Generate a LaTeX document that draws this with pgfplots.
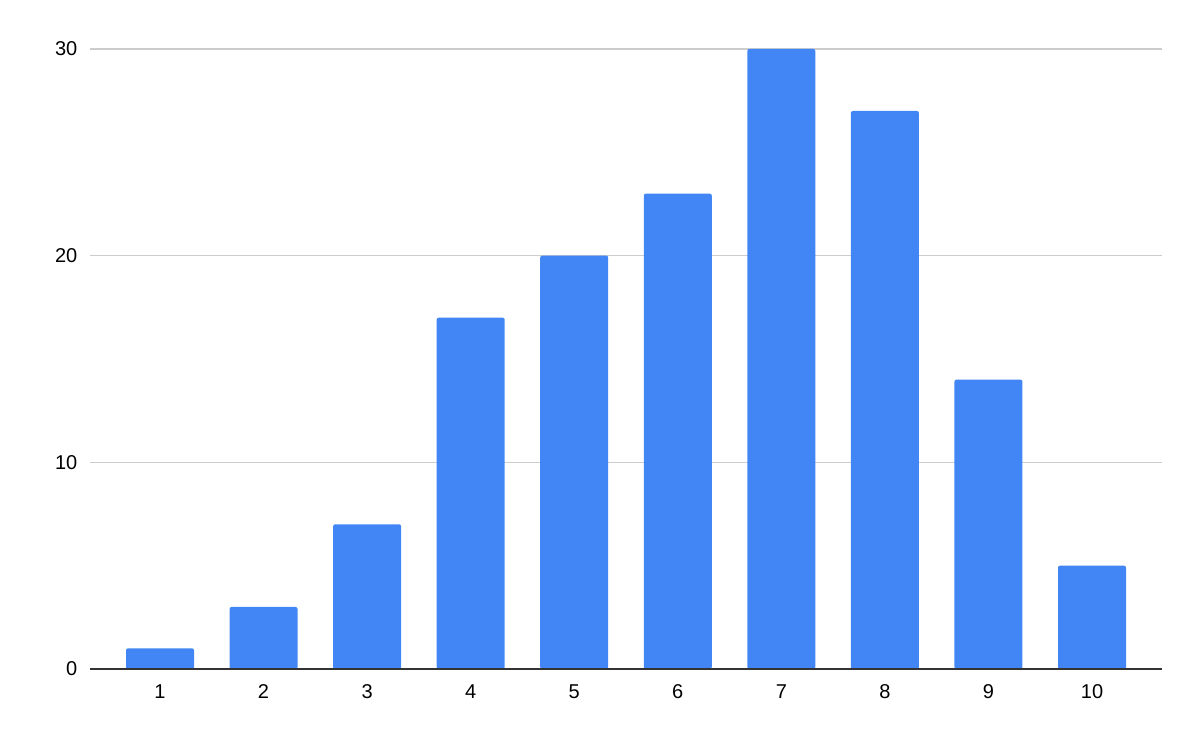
\documentclass[border=0pt]{standalone}
\usepackage{pgfplots}
\pgfplotsset{compat=1.18}
\usepackage{fontspec}
\setmainfont{Liberation Sans}
\definecolor{barblue}{HTML}{4285F4}
\definecolor{gridgray}{HTML}{CCCCCC}
\definecolor{axisgray}{HTML}{333333}
\begin{document}
\begin{tikzpicture}
\useasboundingbox (-67.5pt,-54.75pt) rectangle (832.5pt,501.75pt);
\begin{axis}[
  at={(0pt,0pt)}, anchor=origin,
  scale only axis,
  width=804pt, height=465pt,
  xmin=0.324, xmax=10.676,
  ymin=0, ymax=30,
  axis line style={draw=none},
  xtick={1,...,10},
  ytick={0,10,20,30},
  ymajorgrids,
  grid style={gridgray, line width=1.1pt},
  major tick length=0pt,
  tick label style={font=\fontsize{15pt}{18pt}\selectfont, text=black},
  /pgf/number format/assume math mode=true,
  xticklabel style={yshift=-8pt},
  yticklabel style={xshift=-6pt},
  clip=false,
]
\addplot[ybar, bar width=51pt, fill=barblue, draw=none, bar shift=0pt, rounded corners=1.5pt] coordinates {
 (1,1) (2,3) (3,7) (4,17) (5,20) (6,23) (7,30) (8,27) (9,14) (10,5)
};
\draw[axisgray, line width=1.5pt] (axis cs:0.324,0) -- (axis cs:10.676,0);
\end{axis}
\end{tikzpicture}
\end{document}
